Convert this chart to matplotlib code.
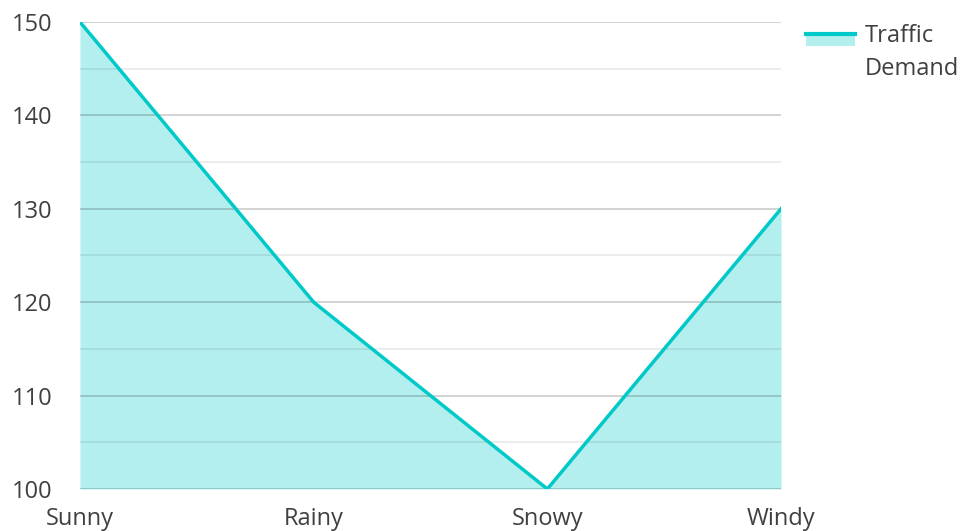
import matplotlib.pyplot as plt
from matplotlib.legend_handler import HandlerBase
from matplotlib.patches import Rectangle
from matplotlib.lines import Line2D
from matplotlib.ticker import MultipleLocator

# Data
weather = ['Sunny', 'Rainy', 'Snowy', 'Windy']
traffic_demand = [150, 120, 100, 130]

line_color = '#00c9c8'
fill_color = '#b2efee'
text_color = '#404040'

plt.rcParams['font.family'] = ['Open Sans', 'DejaVu Sans']


class AreaHandler(HandlerBase):
    """Legend key: a thick line over a light filled band, next to the first text line"""
    def create_artists(self, legend, orig_handle, xdescent, ydescent,
                       width, height, fontsize, trans):
        top = -ydescent + height - 0.05 * fontsize
        band_h = 0.5 * fontsize
        band = Rectangle((-xdescent, top - band_h), width, band_h,
                         facecolor=fill_color, edgecolor='none', transform=trans)
        line = Line2D([-xdescent, -xdescent + width], [top, top],
                      color=line_color, linewidth=3, transform=trans)
        return [band, line]


fig = plt.figure(figsize=(9.67, 5.31), dpi=100)
ax = fig.add_axes([0.0827, 0.0791, 0.725, 0.8795])

x = list(range(len(weather)))
ax.fill_between(x, 100, traffic_demand, color=fill_color, linewidth=0, zorder=1)
ax.plot(x, traffic_demand, color=line_color, linewidth=2.5, zorder=3,
        solid_joinstyle='miter')

ax.set_xlim(0, len(weather) - 1)
ax.set_ylim(100, 150)
ax.set_xticks(x)
ax.set_xticklabels(weather)
ax.yaxis.set_major_locator(MultipleLocator(10))
ax.yaxis.set_minor_locator(MultipleLocator(5))

ax.grid(axis='y', which='major', color='black', alpha=0.2, linewidth=1.2, zorder=2)
ax.grid(axis='y', which='minor', color='black', alpha=0.09, linewidth=1.2, zorder=2)
ax.set_axisbelow(False)

for s in ax.spines.values():
    s.set_visible(False)
ax.tick_params(axis='both', which='both', length=0, labelsize=17, colors=text_color)
ax.tick_params(axis='y', pad=20)
ax.tick_params(axis='x', pad=13)

handle = Rectangle((0, 0), 1, 1)
leg = ax.legend([handle], ['Traffic\nDemand'], handler_map={Rectangle: AreaHandler()},
                loc='upper left', bbox_to_anchor=(1.005, 1.041), frameon=False,
                fontsize=17, handlelength=2.1, handleheight=2.4, handletextpad=0.4)
for t in leg.get_texts():
    t.set_color(text_color)
    t.set_linespacing(1.5)

fig.savefig('out.png', dpi=100)
